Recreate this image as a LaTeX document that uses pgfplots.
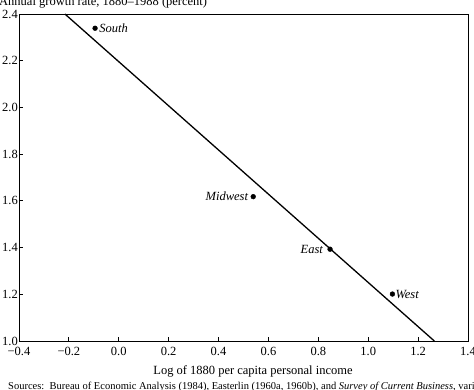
\documentclass[border=0pt]{standalone}
\usepackage{fontspec}
\setmainfont{Liberation Serif}
\usepackage{pgfplots}
\pgfplotsset{compat=1.18}
\begin{document}
\begin{tikzpicture}
\newcommand\fs{\fontsize{12.5pt}{15pt}\selectfont}
\begin{axis}[
  scale only axis,
  width=449pt, height=327pt,
  xmin=-0.4, xmax=1.4, ymin=1.0, ymax=2.4,
  xtick={-0.4,-0.2,0,0.2,0.4,0.6,0.8,1.0,1.2,1.4},
  xticklabels={−0.4,−0.2,0.0,0.2,0.4,0.6,0.8,1.0,1.2,1.4},
  ytick={1.0,1.2,1.4,1.6,1.8,2.0,2.2,2.4},
  yticklabels={1.0,1.2,1.4,1.6,1.8,2.0,2.2,2.4},
  tick align=inside, xtick pos=bottom, ytick pos=left,
  major tick length=4pt,
  axis line style={line width=0.8pt},
  every tick/.style={black, line width=0.8pt},
  tick label style={font=\fs},
  yticklabel style={inner xsep=1pt},
  xticklabel style={inner ysep=6pt},
  clip=false,
]
\coordinate (O) at (rel axis cs:0,0);
\addplot[black, line width=1.3pt] coordinates {(-0.216,2.4) (1.265,1.0)};
\addplot[only marks, mark=*, mark size=2.4pt, black] coordinates {
  (-0.095,2.339) (0.539,1.618) (0.847,1.393) (1.097,1.201)};
\node[font=\fs\itshape, anchor=west, inner sep=0pt] at (axis cs:-0.095,2.339) [xshift=4pt] {South};
\node[font=\fs\itshape, anchor=east, inner sep=0pt] at (axis cs:0.539,1.618) [xshift=-5pt] {Midwest};
\node[font=\fs\itshape, anchor=east, inner sep=0pt] at (axis cs:0.847,1.393) [xshift=-7pt] {East};
\node[font=\fs\itshape, anchor=west, inner sep=0pt] at (axis cs:1.097,1.201) [xshift=3pt] {West};
\end{axis}
\node[font=\fs, anchor=base, inner sep=0pt] at ([xshift=234pt,yshift=-34pt]O) {Log of 1880 per capita personal income};
\node[font=\fs, anchor=base west, inner sep=0pt] at ([xshift=-20pt,yshift=335pt]O) {Annual growth rate, 1880–1988 (percent)};
\node[font=\fontsize{10.5pt}{12pt}\selectfont, anchor=base west, inner sep=0pt] at ([xshift=-11pt,yshift=-48.5pt]O) {Sources:\ \ Bureau of Economic Analysis (1984), Easterlin (1960a, 1960b), and \textit{Survey of Current Business}, various};
\pgfresetboundingbox
\useasboundingbox ([xshift=-19pt,yshift=-49pt]O) rectangle ([xshift=455pt,yshift=341pt]O);
\end{tikzpicture}
\end{document}
